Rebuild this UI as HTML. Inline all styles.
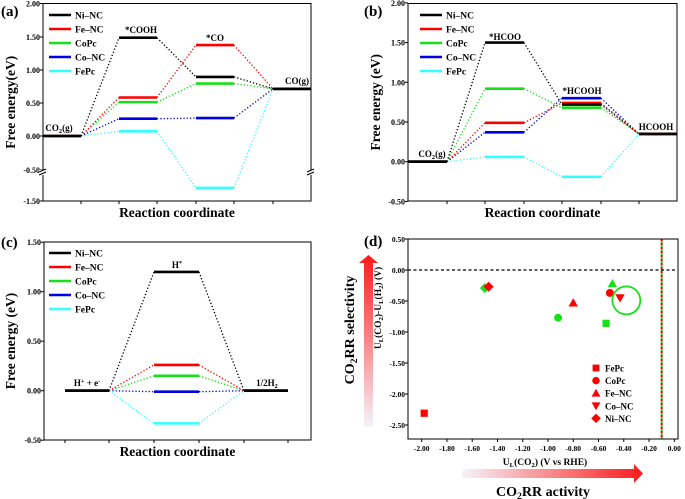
<!DOCTYPE html>
<html><head><meta charset="utf-8"><style>
html,body{margin:0;padding:0;background:#fff;}
svg{display:block;font-family:"Liberation Serif",serif;font-weight:bold;}
</style></head><body>
<svg id="fig" width="685" height="499" viewBox="0 0 685 499" xmlns="http://www.w3.org/2000/svg">
<defs>
<linearGradient id="gv" x1="0" y1="1" x2="0" y2="0"><stop offset="0" stop-color="#f4f4fb"/><stop offset="1" stop-color="#ff1a1a"/></linearGradient>
<linearGradient id="gh" x1="0" y1="0" x2="1" y2="0"><stop offset="0" stop-color="#f4f4fb"/><stop offset="1" stop-color="#ff1a1a"/></linearGradient>
</defs>
</svg>
<script>
// ---- data ----
const seriesNames = ["Ni\u2013NC","Fe\u2013NC","CoPc","Co\u2013NC","FePc"];
const seriesColors = ["#000000","#ff0000","#18e018","#0000e6","#33ffff"];
const aNi=[0,1.48,0.89,0.71], aFe=[0,0.58,1.37,0.71], aCoPc=[0,0.51,0.79,0.71], aCoNC=[0,0.26,0.27,0.71], aFePc=[0,0.07,-1.05,0.71];
const bNi=[0,1.50,0.72,0.35], bFe=[0,0.49,0.74,0.35], bCoPc=[0,0.92,0.68,0.35], bCoNC=[0,0.37,0.80,0.35], bFePc=[0,0.06,-0.19,0.35];
const cNi=[0,1.20,0], cFe=[0,0.26,0], cCoPc=[0,0.15,0], cCoNC=[0,-0.01,0], cFePc=[0,-0.33,0];
const aTicks=["2.00","1.50","1.00","0.50","0.00","-0.50","-1.50"];
const bTicks=["2.00","1.50","1.00","0.50","0.00","-0.50"];
const cTicks=["1.50","1.00","0.50","0.00","-0.50"];
const dNames=["FePc","CoPc","Fe\u2013NC","Co\u2013NC","Ni\u2013NC"];
const dShapes=["square","circle","up","down","diamond"];
const dRedX=[-1.98,-0.51,-0.80,-0.43,-1.47];
const dRedY=[-2.31,-0.37,-0.53,-0.45,-0.27];
const dGreenX=[-0.54,-0.92,-0.49,null,-1.50];
const dGreenY=[-0.86,-0.77,-0.22,null,-0.29];
const dXTicks=["-2.00","-1.80","-1.60","-1.40","-1.20","-1.00","-0.80","-0.60","-0.40","-0.20","0.00"];
const dYTicks=["0.50","0.00","-0.50","-1.00","-1.50","-2.00","-2.50"];

const NS="http://www.w3.org/2000/svg";
const svg=document.getElementById('fig');
function el(tag,attrs,parent){const e=document.createElementNS(NS,tag);for(const k in attrs)e.setAttribute(k,attrs[k]);(parent||svg).appendChild(e);return e;}
function txt(x,y,s,size,anchor,parent,rot){const t=el('text',{x:x,y:y,'font-size':size,'text-anchor':anchor||'middle'},parent);if(rot)t.setAttribute('transform','rotate(-90 '+x+' '+y+')');t.innerHTML=s;return t;}
const sub=s=>'<tspan font-size="70%" baseline-shift="-25%">'+s+'</tspan>';
const sup=s=>'<tspan font-size="70%" baseline-shift="45%">'+s+'</tspan>';

function energyPanel(o){
  const g=el('g',{});
  
  
  const ys=o.ys;
  for(let s=o.data.length-1;s>=0;s--){
    const vals=o.data[s], col=seriesColors[s];
    for(let i=0;i<vals.length;i++){
      const x0=o.segX[i][0],x1=o.segX[i][1],y=ys(vals[i]);
      if(i<vals.length-1){
        const c=el('line',{x1:x1,y1:y,x2:o.segX[i+1][0],y2:ys(vals[i+1]),stroke:col,'stroke-width':1.3,'stroke-dasharray':'1.3 2'},g);
        
        
      }
      const l=el('line',{x1:x0,y1:y,x2:x1,y2:y,stroke:col,'stroke-width':2.6},g);
      
      
    }
  }
  const f=el('rect',{x:o.box[0],y:o.box[1],width:o.box[2]-o.box[0],height:o.box[3]-o.box[1],fill:'none',stroke:'#000','stroke-width':1},g);
  
  
  o.ticks.forEach((t,i)=>{const y=o.tickY[i];el('line',{x1:o.box[0]-3,y1:y,x2:o.box[0],y2:y,stroke:'#000'},g);
    const tl=txt(o.box[0]-3,y+3,t,8,'end',g);});
  o.xt.forEach(x=>el('line',{x1:x,y1:o.box[3],x2:x,y2:o.box[3]+3,stroke:'#000'},g));
  seriesNames.forEach((n,i)=>{const y=o.leg[1]+i*14;
    const ll=el('line',{x1:o.leg[0],y1:y,x2:o.leg[0]+22,y2:y,stroke:seriesColors[i],'stroke-width':2.6},g);
    
    const lt=txt(o.leg[0]+26,y+3.5,n,9.5,'start',g);});
  const xt=txt((o.box[0]+o.box[2])/2,o.xTitleY,'Reaction coordinate',13.5,'middle',g);
  
  const yt=txt(o.yTitleX,(o.box[1]+o.box[3])/2,o.yTitle,13.5,'middle',g,true);
  
  const pl=txt(o.panelPos[0],o.panelPos[1],o.panelLabel,15,'start',g);
  
  o.labels.forEach(L=>{const t=txt(L[0],L[1],L[2],9,'middle',g);});
  return g;
}

const ya=v=> v>=-0.5 ? 136-v*66.4 : 172+(-0.5-v)*29;
const ga=energyPanel({name:'panel-a',box:[43,3.5,311,201],ys:ya,data:[aNi,aFe,aCoPc,aCoNC,aFePc],
  segX:[[43,81],[119,157],[196,234],[273,311]],ticks:aTicks,tickY:[3.5,37,70,103,136,170,201],
  xt:[81,119,157,196,234,273],leg:[49,15],xTitleY:217,yTitleX:15,yTitle:'Free energy(eV)',panelPos:[1,16],panelLabel:'(a)',
  labels:[[141,33,'*COOH'],[215,41,'*CO'],[297,84,'CO(g)'],[59,131,'CO'+sub('2')+'(g)']]});
[[43,173],[311,173]].forEach(p=>{el('rect',{x:p[0]-4,y:p[1]-3,width:8,height:5,fill:'#fff'},ga);
  el('line',{x1:p[0]-4,y1:p[1]-1,x2:p[0]+3,y2:p[1]-4,stroke:'#000'},ga);el('line',{x1:p[0]-4,y1:p[1]+2,x2:p[0]+3,y2:p[1]-1,stroke:'#000'},ga);});

const yb=v=>161.7-v*79.4;
energyPanel({name:'panel-b',box:[408,3.5,677,201],ys:yb,data:[bNi,bFe,bCoPc,bCoNC,bFePc],
  segX:[[408,447],[485,524],[562,601],[639,677]],ticks:bTicks,tickY:bTicks.map(t=>yb(+t)),
  xt:[447,485,524,562,601,639],leg:[420,15],xTitleY:217,yTitleX:380,yTitle:'Free energy (eV)',panelPos:[364,16],panelLabel:'(b)',
  labels:[[505,40,'*HCOO'],[582,94,'*HCOOH'],[656,130,'HCOOH'],[432,157,'CO'+sub('2')+'(g)']]});

const yc=v=>390.7-v*99;
energyPanel({name:'panel-c',box:[44,242,311,440],ys:yc,data:[cNi,cFe,cCoPc,cCoNC,cFePc],
  segX:[[65,109],[154,199],[244,288]],ticks:cTicks,tickY:cTicks.map(t=>yc(+t)),
  xt:[65,109,154,199,244,288],leg:[49,253],xTitleY:456,yTitleX:15,yTitle:'Free energy (eV)',panelPos:[1,247],panelLabel:'(c)',
  labels:[[177,268,'H'+sup('*')],[87,386,'H'+sup('+')+' + e'+sup('-')],[267,386,'1/2H'+sub('2')]]});

const gd=el('g',{});


const dx=v=>674.3+v*126.3, dy=v=>270-v*62;
const box=[408,239,678,439];
const va=el('line',{x1:dx(-0.1),y1:box[1],x2:dx(-0.1),y2:box[3],stroke:'#ff0000','stroke-width':2,'stroke-dasharray':'2 2'},gd);

const vb=el('line',{x1:dx(-0.1),y1:box[1]+2,x2:dx(-0.1),y2:box[3],stroke:'#18e018','stroke-width':2,'stroke-dasharray':'2 2'},gd);

const hz=el('line',{x1:box[0],y1:dy(0),x2:box[2],y2:dy(0),stroke:'#000','stroke-width':1.3,'stroke-dasharray':'3 2.5'},gd);

const fr=el('rect',{x:box[0],y:box[1],width:box[2]-box[0],height:box[3]-box[1],fill:'none',stroke:'#000'},gd);

dYTicks.forEach(t=>{const y=dy(+t);el('line',{x1:box[0]-3,y1:y,x2:box[0],y2:y,stroke:'#000'},gd);
  const l=txt(box[0]-3,y+3,t,7.5,'end',gd);});
dXTicks.forEach(t=>{const x=dx(+t);el('line',{x1:x,y1:box[3],x2:x,y2:box[3]+3,stroke:'#000'},gd);
  const l=txt(x,box[3]+12,t,7.5,'middle',gd);});
function marker(shape,x,y,col,r,parent){
  let m;
  if(shape==='square')m=el('rect',{x:x-r,y:y-r,width:2*r,height:2*r,fill:col},parent);
  else if(shape==='circle')m=el('circle',{cx:x,cy:y,r:r*1.1,fill:col},parent);
  else if(shape==='up')m=el('polygon',{points:`${x},${y-r*1.3} ${x-r*1.3},${y+r} ${x+r*1.3},${y+r}`,fill:col},parent);
  else if(shape==='down')m=el('polygon',{points:`${x},${y+r*1.3} ${x-r*1.3},${y-r} ${x+r*1.3},${y-r}`,fill:col},parent);
  else m=el('polygon',{points:`${x},${y-r*1.4} ${x+r*1.4},${y} ${x},${y+r*1.4} ${x-r*1.4},${y}`,fill:col},parent);
  return m;
}
dShapes.forEach((s,i)=>{
  if(dGreenX[i]!==null){const m=marker(s,dx(dGreenX[i]),dy(dGreenY[i]),'#18e018',3.6,gd);
    }
  const m=marker(s,dx(dRedX[i]),dy(dRedY[i]),'#ff0000',3.6,gd);
  
  
  const ly=368+i*12.6;
  const lm=marker(s,596,ly,'#ff0000',3.4,gd);
  
  const lt=txt(605,ly+3.5,dNames[i],9,'start',gd);
  
});
const hl=el('circle',{cx:dx(-0.38),cy:dy(-0.49),r:14,fill:'none',stroke:'#18e018','stroke-width':1.8},gd);

const dyt=txt(381,308,'U'+sub('L')+'(CO'+sub('2')+')-U'+sub('L')+'(H'+sub('2')+') (V)',9.5,'middle',gd,true);

const dxt=txt(545,465,'U'+sub('L')+'(CO'+sub('2')+') (V vs RHE)',9.5,'middle',gd);

const dpl=txt(364,246,'(d)',15,'start',gd);
const av=el('polygon',{points:'364,427 373,427 373,263 378,263 368.5,255 359,263 364,263',fill:'url(#gv)'},gd);

const ah=el('polygon',{points:'462,469 634,469 634,464 643,473.5 634,483 634,478 462,478',fill:'url(#gh)'},gd);

const sl=txt(354,330,'CO'+sub('2')+'RR selectivity',14,'middle',gd,true);

const al=txt(543,496,'CO'+sub('2')+'RR activity',14,'middle',gd);

</script>
</body></html>
